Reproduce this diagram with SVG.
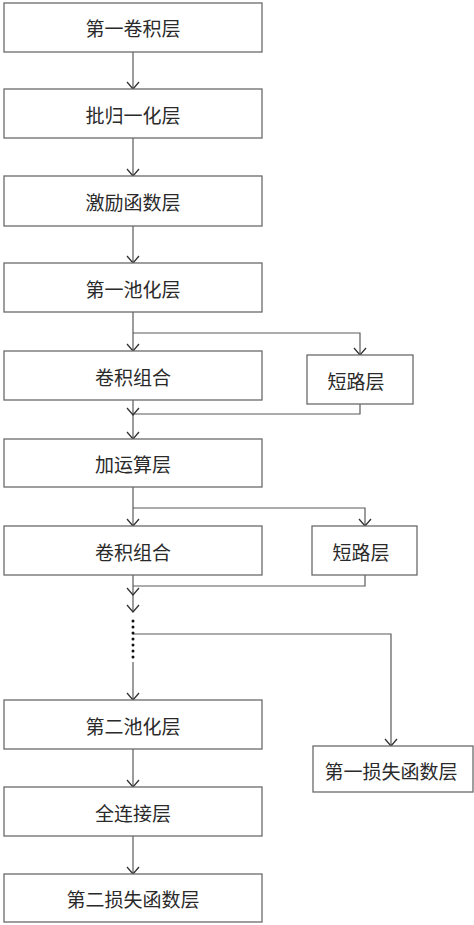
<svg xmlns="http://www.w3.org/2000/svg" xmlns:xlink="http://www.w3.org/1999/xlink" width="474" height="925" viewBox="0 0 474 925">
<style>
.box{fill:#fff;stroke:#6a6a6a;stroke-width:1.3}
.lbl{font-family:"Noto Sans CJK SC","Noto Sans CJK JP",sans-serif;font-size:19px;fill:#2a2a2a;text-anchor:middle;dominant-baseline:central}
.ln{fill:none;stroke:#5a5a5a;stroke-width:1.2}
.ah{fill:none;stroke:#333;stroke-width:1.3}
.dot{fill:#111}
</style>
<defs>
<path id="ah" class="ah" d="M-6,-7 L0,0 L6,-7"/>
</defs>
<rect width="474" height="925" fill="#fff"/>
<g id="connectors">
<path class="ln" d="M133,52 V89"/>
<path class="ln" d="M133,138 V176"/>
<path class="ln" d="M133,226 V263"/>
<path class="ln" d="M133,312 V351"/>
<path class="ln" d="M133,333 H360 V355"/>
<path class="ln" d="M360,404 V414 H133"/>
<path class="ln" d="M133,400 V439"/>
<path class="ln" d="M133,487 V526"/>
<path class="ln" d="M133,508 H365 V526"/>
<path class="ln" d="M365,575 V586 H133"/>
<path class="ln" d="M133,575 V612"/>
<path class="ln" d="M133,634 H391 V746"/>
<path class="ln" d="M133,662 V700"/>
<path class="ln" d="M133,749 V787"/>
<path class="ln" d="M133,836 V874"/>
<use xlink:href="#ah" x="133" y="89"/>
<use xlink:href="#ah" x="133" y="176"/>
<use xlink:href="#ah" x="133" y="263"/>
<use xlink:href="#ah" x="133" y="351"/>
<use xlink:href="#ah" x="360" y="355"/>
<use xlink:href="#ah" x="133" y="415"/>
<use xlink:href="#ah" x="133" y="439"/>
<use xlink:href="#ah" x="133" y="526"/>
<use xlink:href="#ah" x="365" y="526"/>
<use xlink:href="#ah" x="133" y="595"/>
<use xlink:href="#ah" x="133" y="612"/>
<use xlink:href="#ah" x="391" y="746"/>
<use xlink:href="#ah" x="133" y="700"/>
<use xlink:href="#ah" x="133" y="787"/>
<use xlink:href="#ah" x="133" y="874"/>
<circle class="dot" cx="133" cy="621" r="1.5"/>
<circle class="dot" cx="133" cy="627" r="1.5"/>
<circle class="dot" cx="133" cy="633" r="1.5"/>
<circle class="dot" cx="133" cy="639" r="1.5"/>
<circle class="dot" cx="133" cy="645" r="1.5"/>
<circle class="dot" cx="133" cy="651" r="1.5"/>
<circle class="dot" cx="133" cy="657" r="1.5"/>
</g>
<g id="n1"><rect class="box" x="4" y="3" width="258" height="49"/><text class="lbl" x="133" y="27">第一卷积层</text></g>
<g id="n2"><rect class="box" x="4" y="89" width="258" height="49"/><text class="lbl" x="133" y="114">批归一化层</text></g>
<g id="n3"><rect class="box" x="4" y="176" width="258" height="50"/><text class="lbl" x="133" y="201">激励函数层</text></g>
<g id="n4"><rect class="box" x="4" y="263" width="258" height="49"/><text class="lbl" x="133" y="288">第一池化层</text></g>
<g id="n5"><rect class="box" x="4" y="351" width="258" height="49"/><text class="lbl" x="133" y="376">卷积组合</text></g>
<g id="n6"><rect class="box" x="307" y="355" width="106" height="49"/><text class="lbl" x="356" y="380">短路层</text></g>
<g id="n7"><rect class="box" x="4" y="439" width="258" height="48"/><text class="lbl" x="133" y="463">加运算层</text></g>
<g id="n8"><rect class="box" x="4" y="526" width="258" height="49"/><text class="lbl" x="133" y="551">卷积组合</text></g>
<g id="n9"><rect class="box" x="312" y="526" width="105" height="49"/><text class="lbl" x="361" y="551">短路层</text></g>
<g id="n10"><rect class="box" x="4" y="700" width="258" height="49"/><text class="lbl" x="133" y="725">第二池化层</text></g>
<g id="n11"><rect class="box" x="313" y="746" width="160" height="46"/><text class="lbl" x="391" y="770">第一损失函数层</text></g>
<g id="n12"><rect class="box" x="4" y="787" width="258" height="49"/><text class="lbl" x="133" y="812">全连接层</text></g>
<g id="n13"><rect class="box" x="4" y="874" width="258" height="48"/><text class="lbl" x="133" y="898">第二损失函数层</text></g>
</svg>
